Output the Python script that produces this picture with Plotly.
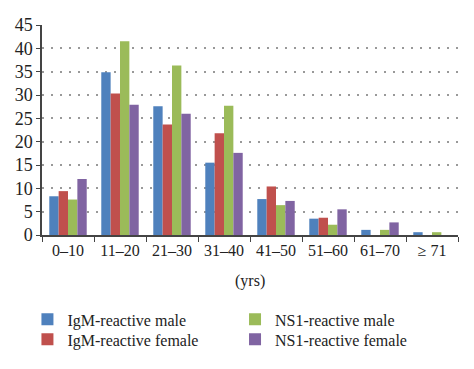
import plotly.graph_objects as go

categories = ["0–10", "11–20", "21–30", "31–40", "41–50", "51–60", "61–70", "≥ 71"]
igm_male = [8.3, 34.9, 27.6, 15.5, 7.7, 3.5, 1.1, 0.6]
igm_female = [9.4, 30.3, 23.7, 21.8, 10.4, 3.7, 0, 0]
ns1_male = [7.6, 41.5, 36.3, 27.7, 6.4, 2.2, 1.1, 0.6]
ns1_female = [12.0, 27.9, 26.0, 17.6, 7.3, 5.5, 2.7, 0]
y_ticks = [0, 5, 10, 15, 20, 25, 30, 35, 40, 45]

series = [
    ("IgM-reactive male", igm_male, "#4F81BD", "legend", -0.035, -0.321),
    ("IgM-reactive female", igm_female, "#C0504D", "legend2", -0.035, -0.416),
    ("NS1-reactive male", ns1_male, "#9BBB59", "legend3", 0.464, -0.321),
    ("NS1-reactive female", ns1_female, "#8064A2", "legend4", 0.464, -0.416),
]

fig = go.Figure()
legends = {}
for name, vals, color, lg, lx, ly in series:
    fig.add_trace(go.Bar(x=categories, y=vals, name=name, marker_color=color,
                         marker_line_width=0, legend=lg, showlegend=True))
    legends[lg] = dict(x=lx, y=ly, xanchor="left", yanchor="top", visible=True,
                       font=dict(size=16), bgcolor="rgba(0,0,0,0)")

font = dict(family="Liberation Serif", size=16, color="#222")
fig.update_layout(
    width=466, height=361,
    margin=dict(l=34, r=16, t=17, b=134, autoexpand=False),
    paper_bgcolor="white", plot_bgcolor="white",
    showlegend=True,
    barmode="group", bargap=0.28, bargroupgap=0,
    font=font,
    xaxis=dict(showline=True, linecolor="#444", linewidth=1.5, ticks="outside",
               tickson="boundaries", ticklen=5, tickcolor="#444",
               tickfont=dict(size=16), showgrid=False, automargin=False),
    yaxis=dict(range=[0, 45], tickvals=y_ticks, showline=True, linecolor="#444",
               linewidth=1.5, ticks="outside", ticklen=4, tickcolor="#444",
               showgrid=True, gridcolor="#999", gridwidth=1.5, griddash="1.5px,7.5px",
               tickfont=dict(size=18), zeroline=False, automargin=False),
    annotations=[dict(text="(yrs)", xref="paper", yref="paper", x=0.5, y=-0.22,
                      showarrow=False, font=dict(size=16), yanchor="middle")],
    **legends,
)

fig.write_html("out.html")
